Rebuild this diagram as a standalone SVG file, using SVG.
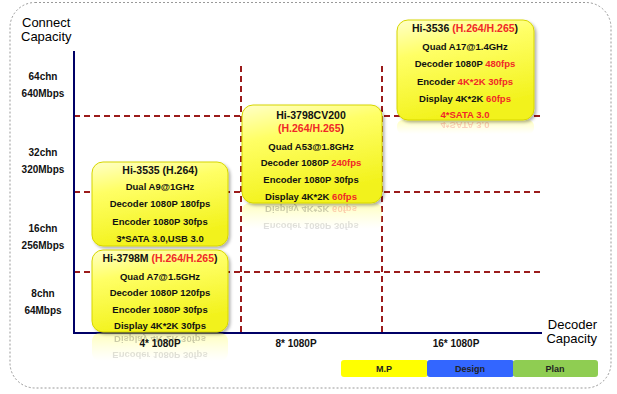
<svg xmlns="http://www.w3.org/2000/svg" width="617" height="394" viewBox="0 0 617 394">
<defs>
<linearGradient id="yg" x1="0" y1="0" x2="0.3" y2="1">
<stop offset="0" stop-color="#ffffc8"/>
<stop offset="0.35" stop-color="#ffff66"/>
<stop offset="1" stop-color="#f2f21a"/>
</linearGradient>
<linearGradient id="rg" x1="0" y1="0" x2="0" y2="1">
<stop offset="0" stop-color="#ffff66" stop-opacity="0.45"/>
<stop offset="1" stop-color="#ffff99" stop-opacity="0"/>
</linearGradient>
<filter id="sh" x="-10%" y="-10%" width="125%" height="130%">
<feDropShadow dx="2" dy="2" stdDeviation="1.5" flood-color="#000" flood-opacity="0.3"/>
</filter>
<style>
.t{font-family:"Liberation Sans",Arial,sans-serif;font-weight:bold;fill:#111;text-anchor:middle}
.bx{font-size:9.5px}
.ti{font-size:10.5px}
.ax{font-size:10px}
.cap{font-family:"Liberation Sans",Arial,sans-serif;font-size:13px;fill:#000}
.r{fill:#f02828}
.box{fill:url(#yg);stroke:#d6d600;stroke-width:1;filter:url(#sh)}
.ref{fill:url(#rg)}
.rt{opacity:0.22}
.dl{stroke:#9b1b1b;stroke-width:2;stroke-dasharray:6,4;fill:none}
.axl{stroke:#000066;stroke-width:2;fill:none}
.lg{font-family:"Liberation Sans",Arial,sans-serif;font-size:9px;font-weight:bold;fill:#222;text-anchor:middle}
</style>
</defs>
<rect x="10" y="2.5" width="601" height="385.5" rx="25" ry="25" fill="#fff" stroke="#999" stroke-width="1" stroke-dasharray="2,2"/>

<g id="labels">
<text class="cap" x="22" y="27">Connect</text>
<text class="cap" x="21" y="41">Capacity</text>
<text class="cap" x="597" y="329" text-anchor="end">Decoder</text>
<text class="cap" x="597" y="343" text-anchor="end">Capacity</text>
<text class="t ax" x="43" y="80">64chn</text>
<text class="t ax" x="43" y="97">640Mbps</text>
<text class="t ax" x="43" y="156">32chn</text>
<text class="t ax" x="43" y="173">320Mbps</text>
<text class="t ax" x="43" y="232">16chn</text>
<text class="t ax" x="43" y="249">256Mbps</text>
<text class="t ax" x="43" y="297">8chn</text>
<text class="t ax" x="43" y="314">64Mbps</text>
<text class="t ax" x="296" y="347">8* 1080P</text>
<text class="t ax" x="456" y="347">16* 1080P</text>
</g>

<g id="connectors">
<path class="dl" d="M74 116H541M74 192H541M74 272H541M241 66V333M382 66V333"/>
<path class="axl" d="M74 51V333H542"/>
</g>

<g id="hi3536">
<rect class="ref" x="397" y="120" width="137" height="14" rx="6"/>
<g class="rt" transform="matrix(1,0,0,-1,0,240)"><text class="t bx r" x="465" y="118">4*SATA 3.0</text></g>
<rect class="box" x="397" y="20" width="137" height="100" rx="11"/>
<text class="t ti" x="465" y="32">Hi-3536 <tspan class="r">(H.264/H.265</tspan>)</text>
<text class="t bx" x="465" y="50">Quad A17@1.4GHz</text>
<text class="t bx" x="465" y="67">Decoder 1080P <tspan class="r">480fps</tspan></text>
<text class="t bx" x="465" y="85">Encoder <tspan class="r">4K*2K 30fps</tspan></text>
<text class="t bx" x="465" y="102">Display 4K*2K <tspan class="r">60fps</tspan></text>
<text class="t bx r" x="465" y="118">4*SATA 3.0</text>
</g>

<g id="hi3798cv200">
<rect class="ref" x="242" y="203" width="140" height="26" rx="8"/>
<g class="rt" transform="matrix(1,0,0,-1,0,406)">
<text class="t bx" x="311" y="200">Display 4K*2K <tspan class="r">60fps</tspan></text>
<text class="t bx" x="311" y="183" opacity="0.6">Encoder 1080P 30fps</text>
</g>
<rect class="box" x="242" y="105" width="140" height="98" rx="11"/>
<text class="t ti" x="311" y="119">Hi-3798CV200</text>
<text class="t ti" x="311" y="132"><tspan class="r">(H.264/H.265</tspan>)</text>
<text class="t bx" x="311" y="150">Quad A53@1.8GHz</text>
<text class="t bx" x="311" y="166">Decoder 1080P <tspan class="r">240fps</tspan></text>
<text class="t bx" x="311" y="183">Encoder 1080P 30fps</text>
<text class="t bx" x="311" y="200">Display 4K*2K <tspan class="r">60fps</tspan></text>
</g>

<g id="hi3535">
<rect class="box" x="92" y="162" width="136" height="84" rx="11"/>
<text class="t ti" x="160" y="174">Hi-3535 (H.264)</text>
<text class="t bx" x="160" y="190">Dual A9@1GHz</text>
<text class="t bx" x="160" y="207">Decoder 1080P 180fps</text>
<text class="t bx" x="160" y="225">Encoder 1080P 30fps</text>
<text class="t bx" x="160" y="242">3*SATA 3.0,USB 3.0</text>
</g>

<g id="hi3798m">
<rect class="ref" x="92" y="333" width="136" height="28" rx="8"/>
<g class="rt" transform="matrix(1,0,0,-1,0,665)">
<text class="t bx" x="160" y="329">Display 4K*2K 30fps</text>
<text class="t bx" x="160" y="313" opacity="0.6">Encoder 1080P 30fps</text>
</g>
<rect class="box" x="92" y="250" width="136" height="82" rx="11"/>
<text class="t ti" x="160" y="262">Hi-3798M <tspan class="r">(H.264/H.265</tspan>)</text>
<text class="t bx" x="160" y="280">Quad A7@1.5GHz</text>
<text class="t bx" x="160" y="296">Decoder 1080P 120fps</text>
<text class="t bx" x="160" y="313">Encoder 1080P 30fps</text>
<text class="t bx" x="160" y="329">Display 4K*2K 30fps</text>
<text class="t ax" x="160" y="347">4* 1080P</text>
</g>

<g id="legend">
<rect x="341" y="360" width="87" height="17" rx="3" fill="#ffff00"/>
<rect x="427" y="360" width="87" height="17" rx="3" fill="#3366ff"/>
<rect x="513" y="360" width="85" height="17" rx="3" fill="#8fcd52"/>
<text class="lg" x="384" y="372">M.P</text>
<text class="lg" x="470" y="372">Design</text>
<text class="lg" x="555" y="372">Plan</text>
</g>
</svg>
